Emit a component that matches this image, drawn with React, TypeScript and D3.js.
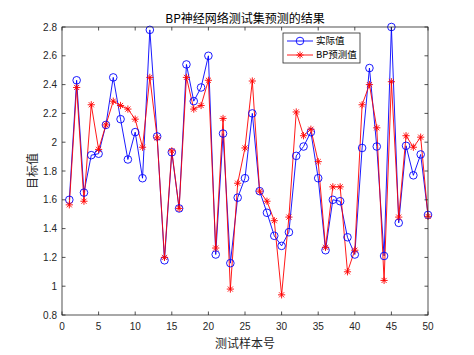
import React from "react";
import * as d3 from "d3";

const sampleIdx = d3.range(1, 51);
const actualValues = [
  1.60, 2.43, 1.65, 1.91, 1.92, 2.12, 2.45, 2.16, 1.88, 2.07,
  1.75, 2.78, 2.04, 1.18, 1.93, 1.54, 2.54, 2.285, 2.38, 2.60,
  1.22, 2.06, 1.16, 1.615, 1.75, 2.20, 1.66, 1.51, 1.35, 1.28,
  1.375, 1.905, 1.97, 2.07, 1.75, 1.25, 1.60, 1.59, 1.34, 1.22,
  1.96, 2.515, 1.97, 1.21, 2.80, 1.44, 1.975, 1.77, 1.915, 1.495,
];
const predictedValues = [
  1.565, 2.38, 1.59, 2.26, 1.95, 2.12, 2.285, 2.255, 2.23, 2.16,
  1.965, 2.45, 2.03, 1.20, 1.94, 1.54, 2.45, 2.23, 2.255, 2.43,
  1.265, 2.165, 0.98, 1.715, 1.96, 2.425, 1.66, 1.59, 1.455, 0.94,
  1.48, 2.21, 2.045, 2.09, 1.865, 1.27, 1.69, 1.69, 1.10, 1.25,
  2.26, 2.40, 2.10, 1.04, 2.42, 1.48, 2.045, 1.965, 2.035, 1.485,
];
const xTicks = [0, 5, 10, 15, 20, 25, 30, 35, 40, 45, 50];
const yTicks = [0.8, 1, 1.2, 1.4, 1.6, 1.8, 2, 2.2, 2.4, 2.6, 2.8];
const titleText = "BP神经网络测试集预测的结果";
const xLabel = "测试样本号";
const yLabel = "目标值";
const legendLabels = ["实际值", "BP预测值"];

const W = 474;
const H = 355;
const L = 62, R = 428, T = 27, B = 315;

export default function App() {
  const x = d3.scaleLinear().domain([0, 50]).range([L, R]);
  const y = d3.scaleLinear().domain([0.8, 2.8]).range([B, T]);
  const lineGen = d3
    .line<number>()
    .x((_, i) => x(sampleIdx[i]))
    .y((d) => y(d));
  const axisColor = "#262626";
  const blue = "#0000ff";
  const red = "#ff0000";
  const tickLen = 3.5;
  const font = "'Liberation Sans', Arial, sans-serif";
  const cjk = "'Noto Sans CJK SC', sans-serif";

  const star = (cx: number, cy: number, key: string | number, r = 3.6) => {
    const d = [0, 45, 90, 135]
      .map((a) => {
        const rad = (a * Math.PI) / 180;
        const dx = Math.cos(rad) * r;
        const dy = Math.sin(rad) * r;
        return `M${cx - dx},${cy - dy}L${cx + dx},${cy + dy}`;
      })
      .join("");
    return <path key={key} d={d} stroke={red} strokeWidth={0.9} fill="none" />;
  };

  const legX = 283, legY = 33, legW = 77, legH = 30;
  const row1 = legY + 8, row2 = legY + 22;

  return (
    <svg
      width={W}
      height={H}
      style={{ position: "absolute", left: 0, top: 0, background: "#fff" }}
    >
      <rect x={0} y={0} width={W} height={H} fill="#fff" />
      <path d={lineGen(actualValues) || ""} fill="none" stroke={blue} strokeWidth={0.9} />
      <path d={lineGen(predictedValues) || ""} fill="none" stroke={red} strokeWidth={0.9} />
      {actualValues.map((v, i) => (
        <circle key={"c" + i} cx={x(sampleIdx[i])} cy={y(v)} r={3.8} fill="none" stroke={blue} strokeWidth={0.9} />
      ))}
      {predictedValues.map((v, i) => star(x(sampleIdx[i]), y(v), "s" + i))}
      <rect x={L} y={T} width={R - L} height={B - T} fill="none" stroke={axisColor} strokeWidth={0.8} />
      {xTicks.map((t) => (
        <g key={"xt" + t}>
          <line x1={x(t)} x2={x(t)} y1={B} y2={B - tickLen} stroke={axisColor} strokeWidth={0.8} />
          <line x1={x(t)} x2={x(t)} y1={T} y2={T + tickLen} stroke={axisColor} strokeWidth={0.8} />
          <text x={x(t)} y={B + 15} textAnchor="middle" fontSize={10} fontFamily={font} fill={axisColor}>
            {t}
          </text>
        </g>
      ))}
      {yTicks.map((t) => (
        <g key={"yt" + t}>
          <line x1={L} x2={L + tickLen} y1={y(t)} y2={y(t)} stroke={axisColor} strokeWidth={0.8} />
          <line x1={R} x2={R - tickLen} y1={y(t)} y2={y(t)} stroke={axisColor} strokeWidth={0.8} />
          <text x={L - 5} y={y(t) + 3.5} textAnchor="end" fontSize={10} fontFamily={font} fill={axisColor}>
            {t}
          </text>
        </g>
      ))}
      <text x={(L + R) / 2} y={23} textAnchor="middle" fontSize={12} fontFamily={cjk} fill="#000">
        {titleText}
      </text>
      <text x={(L + R) / 2} y={348} textAnchor="middle" fontSize={12} fontFamily={cjk} fill={axisColor}>
        {xLabel}
      </text>
      <text
        transform={`translate(37,${(T + B) / 2}) rotate(-90)`}
        textAnchor="middle"
        fontSize={12}
        fontFamily={cjk}
        fill={axisColor}
      >
        {yLabel}
      </text>
      <rect x={legX} y={legY} width={legW} height={legH} fill="#fff" stroke={axisColor} strokeWidth={0.8} />
      <line x1={legX + 4} x2={legX + 30} y1={row1} y2={row1} stroke={blue} strokeWidth={0.9} />
      <circle cx={legX + 17} cy={row1} r={3.8} fill="none" stroke={blue} strokeWidth={0.9} />
      <text x={legX + 33} y={row1 + 3.3} fontSize={9.5} fontFamily={cjk} fill="#000">
        {legendLabels[0]}
      </text>
      <line x1={legX + 4} x2={legX + 30} y1={row2} y2={row2} stroke={red} strokeWidth={0.9} />
      {star(legX + 17, row2, "legstar")}
      <text x={legX + 33} y={row2 + 3.3} fontSize={9.5} fontFamily={cjk} fill="#000">
        {legendLabels[1]}
      </text>
    </svg>
  );
}
